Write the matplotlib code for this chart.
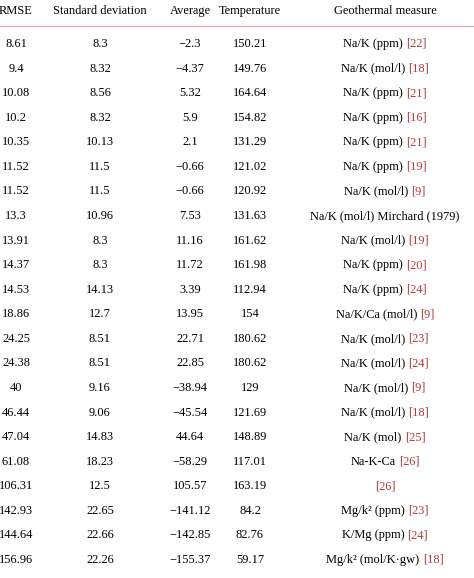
import matplotlib.pyplot as plt

headers = ["RMSE", "Standard deviation", "Average", "Temperature", "Geothermal measure"]
rmse = ["8.61", "9.4", "10.08", "10.2", "10.35", "11.52", "11.52", "13.3", "13.91", "14.37",
        "14.53", "18.86", "24.25", "24.38", "40", "46.44", "47.04", "61.08", "106.31",
        "142.93", "144.64", "156.96"]
std_dev = ["8.3", "8.32", "8.56", "8.32", "10.13", "11.5", "11.5", "10.96", "8.3", "8.3",
           "14.13", "12.7", "8.51", "8.51", "9.16", "9.06", "14.83", "18.23", "12.5",
           "22.65", "22.66", "22.26"]
average = ["\u22122.3", "\u22124.37", "5.32", "5.9", "2.1", "\u22120.66", "\u22120.66", "7.53",
           "11.16", "11.72", "3.39", "13.95", "22.71", "22.85", "\u221238.94", "\u221245.54",
           "44.64", "\u221258.29", "105.57", "\u2212141.12", "\u2212142.85", "\u2212155.37"]
temperature = ["150.21", "149.76", "164.64", "154.82", "131.29", "121.02", "120.92", "131.63",
               "161.62", "161.98", "112.94", "154", "180.62", "180.62", "129", "121.69",
               "148.89", "117.01", "163.19", "84.2", "82.76", "59.17"]
measure = ["Na/K (ppm)", "Na/K (mol/l)", "Na/K (ppm)", "Na/K (ppm)", "Na/K (ppm)", "Na/K (ppm)",
           "Na/K (mol/l)", "Na/K (mol/l) Mirchard (1979)", "Na/K (mol/l)", "Na/K (ppm)",
           "Na/K (ppm)", "Na/K/Ca (mol/l)", "Na/K (mol/l)", "Na/K (mol/l)", "Na/K (mol/l)",
           "Na/K (mol/l)", "Na/K (mol)", "Na-K-Ca", "", "Mg/k\u00b2 (ppm)", "K/Mg (ppm)",
           "Mg/k\u00b2 (mol/K\u00b7gw)"]
refs = ["[22]", "[18]", "[21]", "[16]", "[21]", "[19]", "[9]", "", "[19]", "[20]", "[24]",
        "[9]", "[23]", "[24]", "[9]", "[18]", "[25]", "[26]", "[26]", "[23]", "[24]", "[18]"]

W, H = 474, 578
fig = plt.figure(figsize=(W / 100, H / 100), dpi=100)
ax = fig.add_axes([0, 0, 1, 1])
ax.set_xlim(0, W)
ax.set_ylim(H, 0)
ax.axis("off")

font = dict(family="Liberation Serif", fontsize=8.9)
col_x = [16, 100, 190, 250, 385]
y_head = 11
y0, dy = 44, (560 - 44) / 21

for x, h in zip(col_x, headers):
    ax.text(x, y_head, h, ha="center", va="center", **font)
ax.plot([0, W], [26, 26], color="#d8a8a8", lw=0.8)

fig.canvas.draw()
rend = fig.canvas.get_renderer()

for i in range(len(rmse)):
    y = y0 + i * dy
    for x, v in zip(col_x[:4], [rmse[i], std_dev[i], average[i], temperature[i]]):
        ax.text(x, y, v, ha="center", va="center", **font)
    # measure text (black) + reference (red), centred together
    parts = [(measure[i], "black"), (refs[i], "#b03a3a")]
    parts = [(s, c) for s, c in parts if s]
    widths = []
    for j, (s, c) in enumerate(parts):
        s2 = s + (" " if j < len(parts) - 1 else "")
        t = ax.text(0, y, s2, ha="left", va="center", **font)
        bb = t.get_window_extent(rend)
        widths.append((bb.x1 - bb.x0))
        t.remove()
    total = sum(widths)
    x = col_x[4] - total / 2
    for j, (s, c) in enumerate(parts):
        ax.text(x, y, s, ha="left", va="center", color=c, **font)
        x += widths[j]

fig.savefig("out.png", dpi=100)
